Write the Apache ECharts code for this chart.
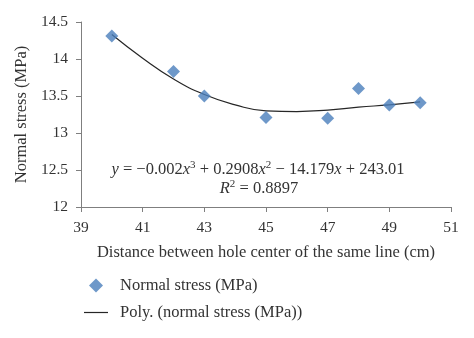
<!DOCTYPE html>
<html>
<head>
<meta charset="utf-8">
<script src="https://cdn.jsdelivr.net/npm/echarts@6/dist/echarts.min.js"></script>
<style>
  html, body { margin: 0; padding: 0; background: #fff; }
  #chart { width: 474px; height: 338px; }
</style>
</head>
<body>
<div id="chart"></div>
<script>
// Measured normal stress at each hole spacing
const spacing = [40, 42, 43, 45, 47, 48, 49, 50];
const normalStress = [14.31, 13.83, 13.50, 13.21, 13.20, 13.60, 13.38, 13.41];

// Samples along the third-order polynomial trend line
const trendX = [40, 41, 42, 43, 44, 45, 46, 47, 48, 49, 50];
const trendY = [14.33, 14.01, 13.73, 13.52, 13.38, 13.30, 13.29, 13.31, 13.35, 13.38, 13.42];

const xTicks = [39, 41, 43, 45, 47, 49, 51];
const yTicks = [12, 12.5, 13, 13.5, 14, 14.5];

const seriesNames = ['Normal stress (MPa)', 'Poly. (normal stress (MPa))'];

const FONT = '"Liberation Serif", "DejaVu Serif", serif';
const AXIS = '#7f7f7f';
const TEXT = '#333';
const BLUE = '#4a7ebb';
const TREND = '#262626';

const chart = echarts.init(document.getElementById('chart'), null, { renderer: 'canvas' });

const legendText = { fontFamily: FONT, fontSize: 16.5, color: TEXT };
const rich = {
  i: { fontFamily: FONT, fontStyle: 'italic', fontSize: 16.5, fill: TEXT },
  n: { fontFamily: FONT, fontSize: 16.5, fill: TEXT },
  s: { fontFamily: FONT, fontSize: 11, fill: TEXT, verticalAlign: 'top', padding: [0, 0, 9, 0] }
};

chart.setOption({
  animation: false,
  backgroundColor: '#fff',
  textStyle: { fontFamily: FONT },
  grid: { left: 81, right: 23, top: 22, bottom: 131, containLabel: false },
  xAxis: {
    type: 'value',
    min: xTicks[0],
    max: xTicks[xTicks.length - 1],
    interval: 2,
    name: 'Distance between hole center of the same line (cm)',
    nameLocation: 'middle',
    nameGap: 37,
    nameTextStyle: { fontFamily: FONT, fontSize: 16.5, color: TEXT },
    axisLine: { lineStyle: { color: AXIS, width: 1 } },
    axisTick: { show: true, inside: false, length: 5, lineStyle: { color: AXIS } },
    axisLabel: { fontFamily: FONT, fontSize: 15.5, color: TEXT, margin: 13 },
    splitLine: { show: false }
  },
  yAxis: {
    type: 'value',
    min: yTicks[0],
    max: yTicks[yTicks.length - 1],
    interval: 0.5,
    name: 'Normal stress (MPa)',
    nameLocation: 'middle',
    nameGap: 46,
    nameRotate: 90,
    nameTextStyle: { fontFamily: FONT, fontSize: 16.5, color: TEXT },
    axisLine: { show: true, lineStyle: { color: AXIS, width: 1 } },
    axisTick: { show: true, inside: false, length: 5, lineStyle: { color: AXIS } },
    axisLabel: { fontFamily: FONT, fontSize: 15.5, color: TEXT, margin: 13 },
    splitLine: { show: false }
  },
  legend: [
    {
      left: 84,
      top: 272,
      itemWidth: 14,
      itemHeight: 14,
      textStyle: Object.assign({}, legendText, { padding: [0, 0, 0, 12] }),
      data: [{ name: seriesNames[0], icon: 'diamond' }]
    },
    {
      left: 79,
      top: 299,
      itemWidth: 24,
      itemHeight: 1.2,
      textStyle: Object.assign({}, legendText, { padding: [0, 0, 0, 7] }),
      data: [{ name: seriesNames[1], icon: 'rect', itemStyle: { color: TREND } }]
    }
  ],
  graphic: [
    {
      type: 'text',
      x: 258,
      y: 160,
      style: {
        align: 'center',
        rich: rich,
        text: '{i|y}{n| = −0.002}{i|x}{s|3}{n| + 0.2908}{i|x}{s|2}{n| − 14.179}{i|x}{n| + 243.01}'
      }
    },
    {
      type: 'text',
      x: 259,
      y: 179,
      style: {
        align: 'center',
        rich: rich,
        text: '{i|R}{s|2}{n| = 0.8897}'
      }
    }
  ],
  series: [
    {
      name: seriesNames[0],
      type: 'scatter',
      symbol: 'diamond',
      symbolSize: 13,
      itemStyle: { color: BLUE },
      data: spacing.map((x, i) => [x, normalStress[i]]),
      z: 3
    },
    {
      name: seriesNames[1],
      type: 'line',
      smooth: true,
      symbol: 'none',
      lineStyle: { color: TREND, width: 1.2 },
      itemStyle: { color: TREND },
      data: trendX.map((x, i) => [x, trendY[i]]),
      z: 2
    }
  ]
});
</script>
</body>
</html>
